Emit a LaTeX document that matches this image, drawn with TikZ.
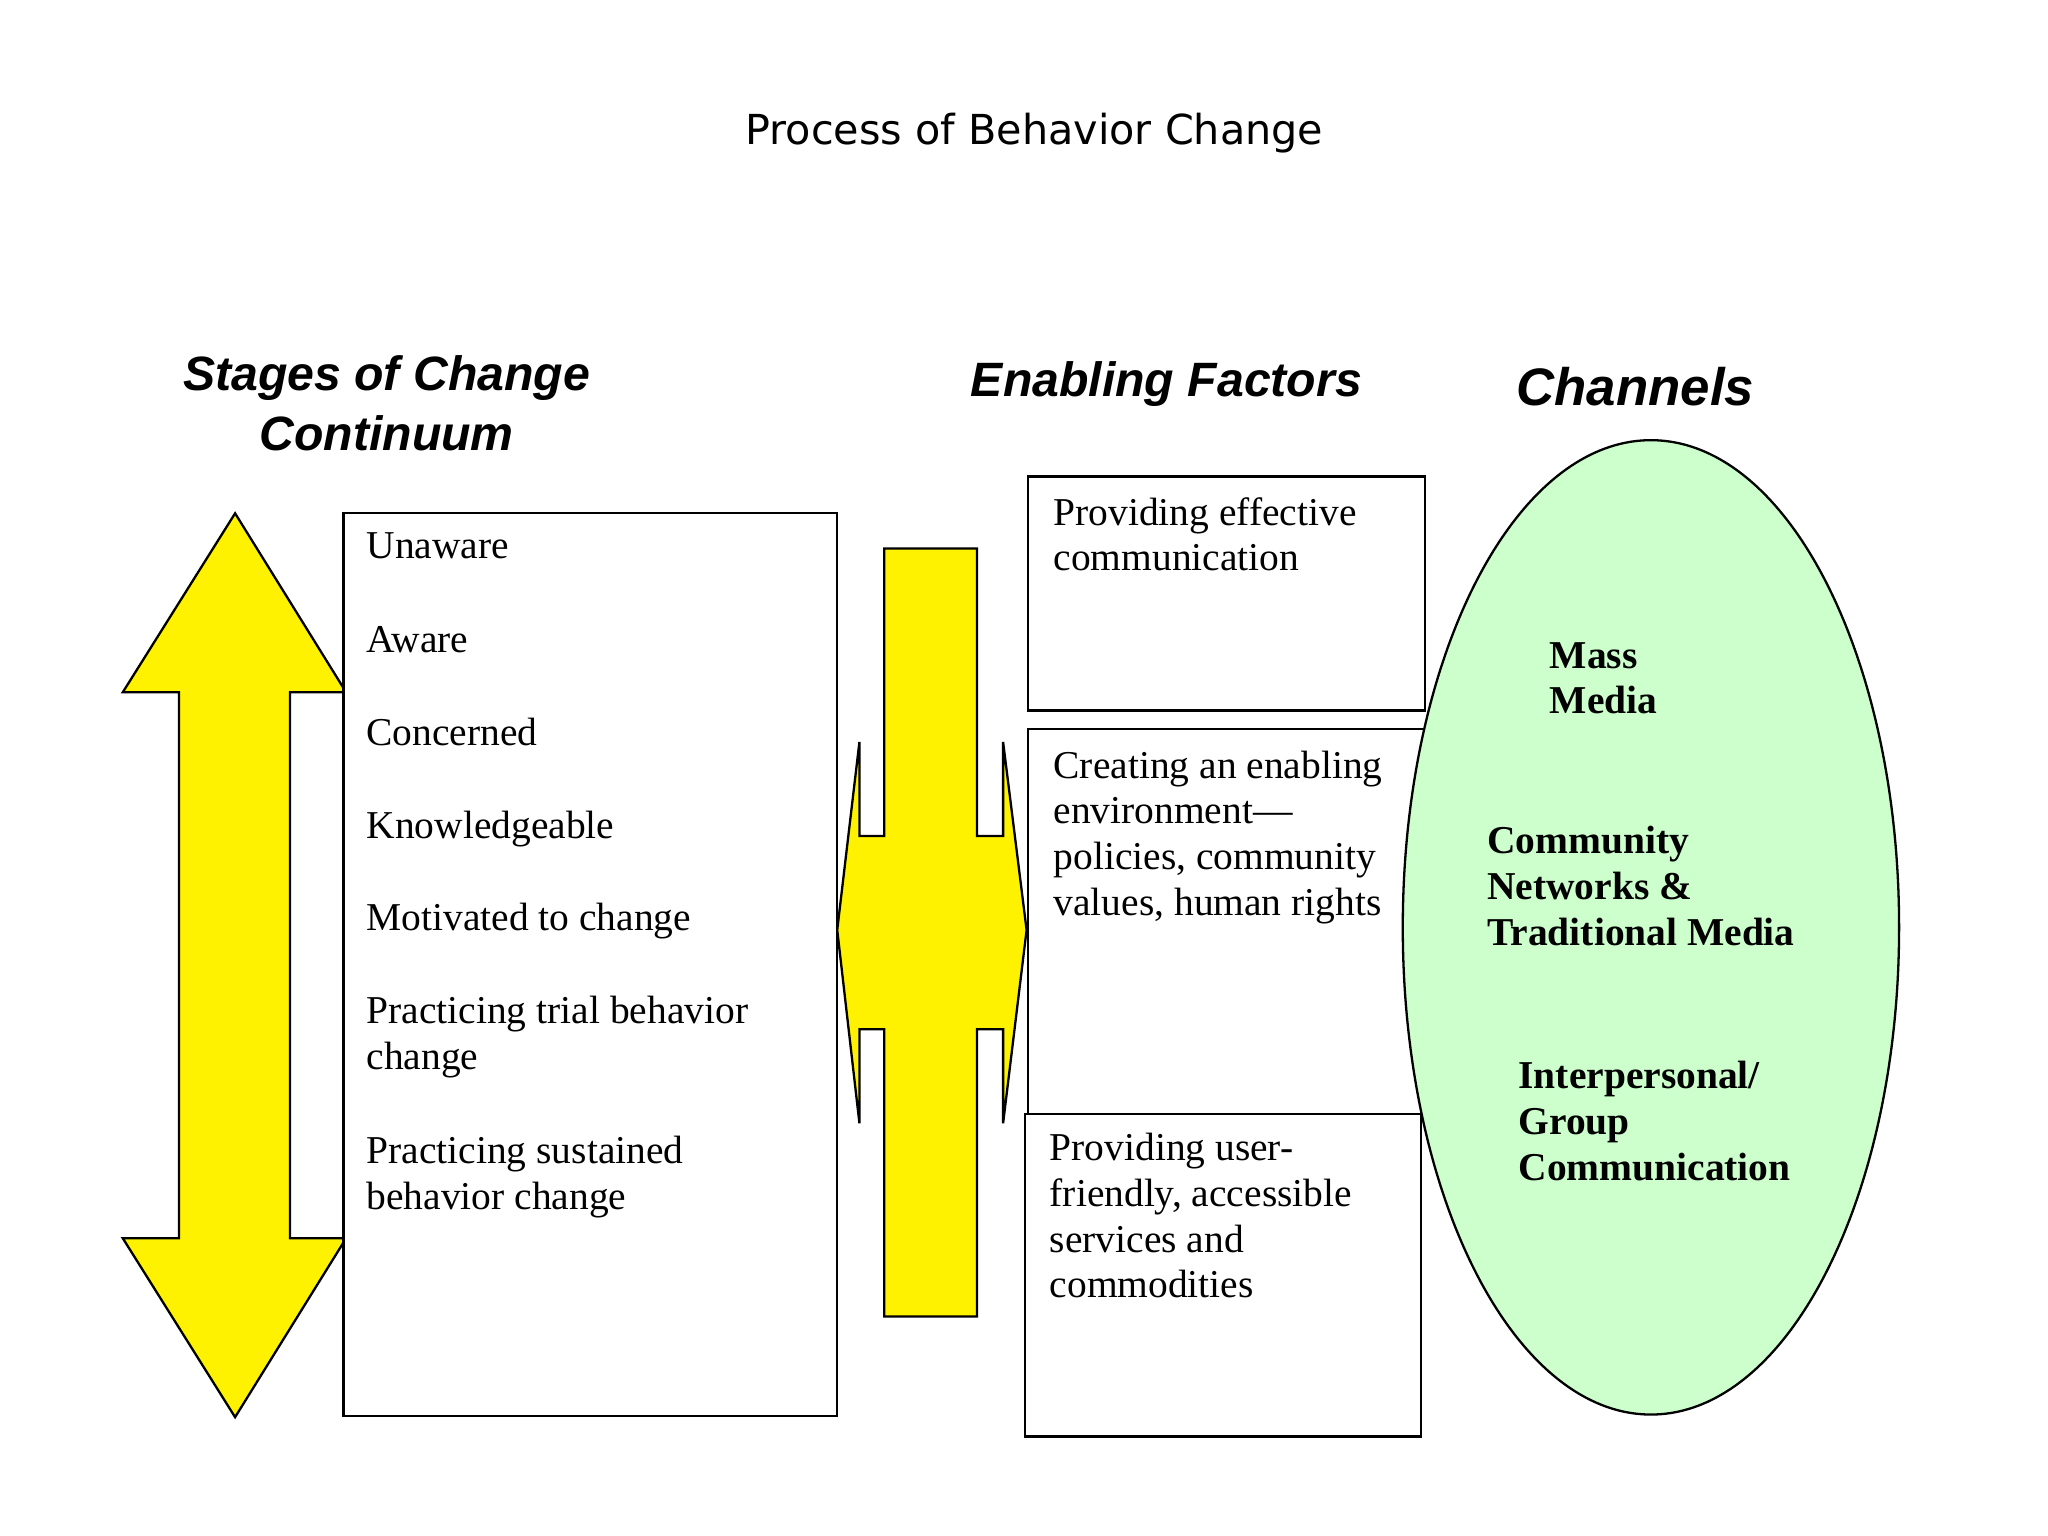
\documentclass[tikz,border=0pt]{standalone}
\usepackage{fontspec}
\usetikzlibrary{shapes.geometric}
\setmainfont{Liberation Serif}
\newfontfamily\hsans{Liberation Sans}
\newfontfamily\tsans{DejaVu Sans}
\begin{document}
\begin{tikzpicture}[x=0.1mm,y=-0.1mm,
  yel/.style={fill=yellow,draw=black,line width=0.5pt},
  box/.style={draw=black,line width=0.5pt,fill=white,inner sep=0pt},
  hd/.style={font=\hsans\fontsize{10.5}{13}\selectfont\bfseries\itshape,align=center},
  txt/.style={font=\fontsize{8.6}{9.95}\selectfont,align=left,anchor=north west,inner sep=0pt},
  btxt/.style={font=\fontsize{8.6}{9.95}\selectfont\bfseries,align=left,anchor=north west,inner sep=0pt}]
\useasboundingbox (0,0) rectangle (1568,1176);
\node[font=\tsans\fontsize{9}{11}\selectfont] (title) at (792,102) {Process of Behavior Change};
\node[hd] (h1) at (296,309) {Stages of Change\\Continuum};
\node[hd] (h2) at (893,294) {Enabling Factors};
\node[hd,font=\hsans\fontsize{11.5}{13}\selectfont\bfseries\itshape] (h3) at (1252,296) {Channels};
% left double arrow
\draw[yel] (180,393) -- (265,530) -- (222,530) -- (222,948) -- (265,948) -- (180,1085) -- (94,948) -- (137,948) -- (137,530) -- (94,530) -- cycle;
\node[box,minimum width=37.8mm,minimum height=69.1mm,anchor=north west] (stages) at (262,392) {};
\node[txt] (s1) at (280,407) {Unaware};
\node[txt] (s2) at (280,479) {Aware};
\node[txt] (s3) at (280,549) {Concerned};
\node[txt] (s4) at (280,620) {Knowledgeable};
\node[txt] (s5) at (280,691) {Motivated to change};
\node[txt] (s6) at (280,762) {Practicing trial behavior\\change};
\node[txt] (s7) at (280,869) {Practicing sustained\\behavior change};
% middle cross arrow
\draw[yel] (677,420) -- (748,420) -- (748,640) -- (768,640) -- (768,568) -- (786,712) -- (768,860) -- (768,788) -- (748,788) -- (748,1008) -- (677,1008) -- (677,788) -- (658,788) -- (658,860) -- (641,712) -- (658,568) -- (658,640) -- (677,640) -- cycle;
% boxes
\node[box,minimum width=30.4mm,minimum height=17.9mm,anchor=north west] (ba) at (786,364) {};
\node[box,minimum width=30.4mm,minimum height=29.5mm,anchor=north west] (bb) at (786,557) {};
\node[box,minimum width=30.3mm,minimum height=24.7mm,anchor=north west] (bc) at (784,852) {};
\node[txt] (ta) at (806,380) {Providing effective\\communication};
\node[txt] (tb) at (806,574) {Creating an enabling\\environment---\\policies, community\\values, human rights};
\node[txt] (tc) at (803,867) {Providing user-\\friendly, accessible\\services and\\commodities};
% ellipse
\node[draw=black,line width=0.5pt,fill={rgb,255:red,204;green,255;blue,204},ellipse,minimum width=38mm,minimum height=74.6mm,inner sep=0pt] (ch) at (1264,710) {};
\node[btxt] (c1) at (1186,491) {Mass\\Media};
\node[btxt] (c2) at (1138,632) {Community\\Networks \&\\Traditional Media};
\node[btxt] (c3) at (1162,812) {Interpersonal/\\Group\\Communication};
\end{tikzpicture}
\end{document}
